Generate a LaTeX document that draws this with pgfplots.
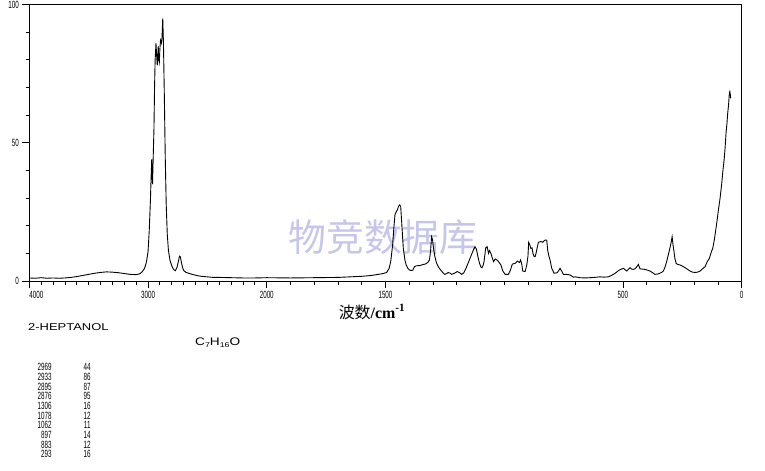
\documentclass[border=0pt]{standalone}
\usepackage{fontspec}
\usepackage{graphicx}
\usepackage{pgfplots}
\pgfplotsset{compat=1.18}
\newfontfamily\cjk{Noto Sans CJK SC}
\newfontfamily\lsans{Liberation Sans}
\newfontfamily\lserif{Liberation Serif}
\definecolor{wm}{RGB}{198,198,236}
\newcommand\tk[1]{\scalebox{0.6}[1]{\lsans\fontsize{10.5}{10.5}\selectfont #1}}
\begin{document}
\begin{tikzpicture}
\path[use as bounding box] (0,0) rectangle (765bp,-471bp);
\node[text=wm, font=\cjk\fontsize{38}{38}\selectfont, inner sep=0] at (383bp,-237bp) {物竞数据库};
\begin{axis}[
  at={(29.3bp,-281bp)}, anchor=south west,
  scale only axis, width=712.4bp, height=276.5bp,
  xmin=0, xmax=3000, ymin=0, ymax=100,
  x dir=reverse,
  axis line style={line width=0.8bp},
  tick style={black, line width=0.8bp},
  minor tick style={black, line width=0.8bp},
  tick align=outside,
  xtick pos=bottom, ytick pos=left,
  xtick={0,500,1500,2000,2500,3000},
  xticklabels={\tk{0},\tk{500},\tk{1500},\tk{2000},\tk{3000},\makebox[0pt][l]{\tk{4000}}},
  minor xtick={100,200,...,1900,2050,2100,...,2950},
  ytick={0,50,100},
  yticklabels={\tk{0},\tk{50},\tk{100}},
  minor ytick={10,20,...,90},
  major tick length=7bp, minor tick length=3.5bp,
]
\addplot[black, line width=0.9bp, x filter/.expression={x-(x-2000+abs(x-2000))/4}] table {
w v
4000 1.1
3950 1.0
3900 1.2
3850 1.0
3800 1.1
3750 1.0
3700 1.1
3650 1.3
3600 1.6
3550 2.0
3500 2.4
3450 2.8
3400 3.1
3350 3.3
3300 3.2
3250 3.0
3200 2.7
3150 2.4
3100 2.3
3070 2.6
3050 3.3
3030 4.5
3015 6.5
3000 10.5
2990 18
2980 29
2975 36
2969 44
2966 38
2962 35
2958 42
2950 55
2945 70
2940 80
2933 86
2928 82
2922 78
2918 81
2914 85
2910 80
2905 79
2900 84
2895 87
2888 86
2882 88
2876 95
2870 86
2863 68
2855 45
2847 28
2838 17
2828 11
2815 7.5
2800 5.5
2785 4.2
2770 3.7
2755 5
2745 7
2735 9
2728 8.8
2720 7
2710 5
2700 3.8
2680 3.1
2650 2.7
2620 2.3
2580 1.9
2550 1.7
2500 1.5
2450 1.3
2400 1.3
2300 1.2
2200 1.1
2100 1.1
2000 1.2
1900 1.1
1800 1.2
1700 1.3
1650 1.5
1600 1.7
1560 2.0
1530 2.4
1510 2.7
1495 3.1
1485 4.5
1478 7
1470 13
1465 19
1460 24
1455 25
1450 25.7
1445 27
1441 27.5
1436 27
1432 21.5
1428 16
1425 11.8
1418 7.5
1413 5.8
1406 4.6
1399 4
1392 3.8
1385 3.9
1378 5.2
1370 5.5
1355 5.6
1340 6
1333 6.1
1322 6.7
1315 7.6
1310 11
1306 16
1302 15
1298 12
1292 8.8
1285 6.5
1278 5.2
1270 4.2
1264 3.6
1256 2.8
1250 2.4
1243 2.7
1236 3.1
1228 2.8
1221 2.4
1210 2.8
1198 3.4
1188 3
1179 2.4
1170 3
1161 4.6
1152 6.5
1145 8
1138 9.5
1130 11.2
1123 12.4
1117 11.5
1110 8.5
1104 6.4
1098 5
1094 4.8
1089 5.6
1085 7
1078 12
1072 12.4
1066 10
1062 11
1056 10
1052 8.8
1045 7
1038 8
1030 7.6
1024 7
1014 5.8
1006 3.6
996 2.4
983 2.4
976 3.5
970 5
966 6.1
954 6.4
945 7.2
936 6.7
931 7.6
926 6
922 3.6
912 3.4
905 5.8
900 9
897 14
892 13
888 11.8
883 12
879 10
874 8.8
870 8.8
866 10
860 12.5
856 14
846 14.3
838 14
835 14.3
828 14.8
821 14.8
817 11.2
812 9
807 7.6
800 4.6
790 2.8
777 3
770 3.8
765 4.6
758 3.6
751 2.4
737 2.4
723 2.2
709 1.4
700 1.5
681 1.2
660 1.1
639 1.2
620 1.3
597 1.5
580 1.4
562 1.5
548 2
533 2.8
515 4
498 4.6
490 4
484 3.6
477 4.2
470 4.8
463 4.3
456 4.2
450 4.4
445 4.8
439 5.5
435 6
431 5
428 4.4
418 4.3
407 4.2
396 3.9
386 3.6
375 3
365 2.4
355 2.5
344 2.8
336 3.2
330 3.6
323 5
316 7
309 9.5
302 12
297 14
293 16
289 13
285 10.6
281 8
276 6.4
270 6
259 5.8
248 5.3
238 4.8
228 4.2
217 3.6
207 3.2
196 3.1
186 3.2
175 3.6
165 4.4
154 5.2
145 7
136 8.2
128 10.5
122 11.8
115 15
110 18
105 21
98 25.7
91 30
84 35.3
79 40
74 43.8
70 48
66 53.4
62 57
59 60.6
55 64
52 67.9
50 68.5
48 67.5
46 66
};
\end{axis}
\node[anchor=center, inner sep=0] at (372bp,-312bp) {\cjk\fontsize{16}{16}\selectfont 波数\lserif\bfseries/cm\textsuperscript{-1}};
\node[anchor=west, inner sep=0] at (28bp,-326.7bp) {\scalebox{1.3}[1]{\lsans\fontsize{10}{10}\selectfont 2-HEPTANOL}};
\node[anchor=west, inner sep=0] at (195bp,-343bp) {\scalebox{1.25}[1]{\lsans\fontsize{11}{11}\selectfont C\raisebox{-2bp}{\fontsize{7}{7}\selectfont 7}H\raisebox{-2bp}{\fontsize{7}{7}\selectfont 16}O}};
\node[anchor=east, inner sep=0] at (51.7bp,-367.3bp) {\tk{2969}};
\node[anchor=east, inner sep=0] at (90.7bp,-367.3bp) {\tk{44}};
\node[anchor=east, inner sep=0] at (51.7bp,-377.0bp) {\tk{2933}};
\node[anchor=east, inner sep=0] at (90.7bp,-377.0bp) {\tk{86}};
\node[anchor=east, inner sep=0] at (51.7bp,-386.7bp) {\tk{2895}};
\node[anchor=east, inner sep=0] at (90.7bp,-386.7bp) {\tk{87}};
\node[anchor=east, inner sep=0] at (51.7bp,-396.3bp) {\tk{2876}};
\node[anchor=east, inner sep=0] at (90.7bp,-396.3bp) {\tk{95}};
\node[anchor=east, inner sep=0] at (51.7bp,-406.0bp) {\tk{1306}};
\node[anchor=east, inner sep=0] at (90.7bp,-406.0bp) {\tk{16}};
\node[anchor=east, inner sep=0] at (51.7bp,-415.7bp) {\tk{1078}};
\node[anchor=east, inner sep=0] at (90.7bp,-415.7bp) {\tk{12}};
\node[anchor=east, inner sep=0] at (51.7bp,-425.3bp) {\tk{1062}};
\node[anchor=east, inner sep=0] at (90.7bp,-425.3bp) {\tk{11}};
\node[anchor=east, inner sep=0] at (51.7bp,-435.0bp) {\tk{897}};
\node[anchor=east, inner sep=0] at (90.7bp,-435.0bp) {\tk{14}};
\node[anchor=east, inner sep=0] at (51.7bp,-444.7bp) {\tk{883}};
\node[anchor=east, inner sep=0] at (90.7bp,-444.7bp) {\tk{12}};
\node[anchor=east, inner sep=0] at (51.7bp,-454.3bp) {\tk{293}};
\node[anchor=east, inner sep=0] at (90.7bp,-454.3bp) {\tk{16}};
\end{tikzpicture}
\end{document}
